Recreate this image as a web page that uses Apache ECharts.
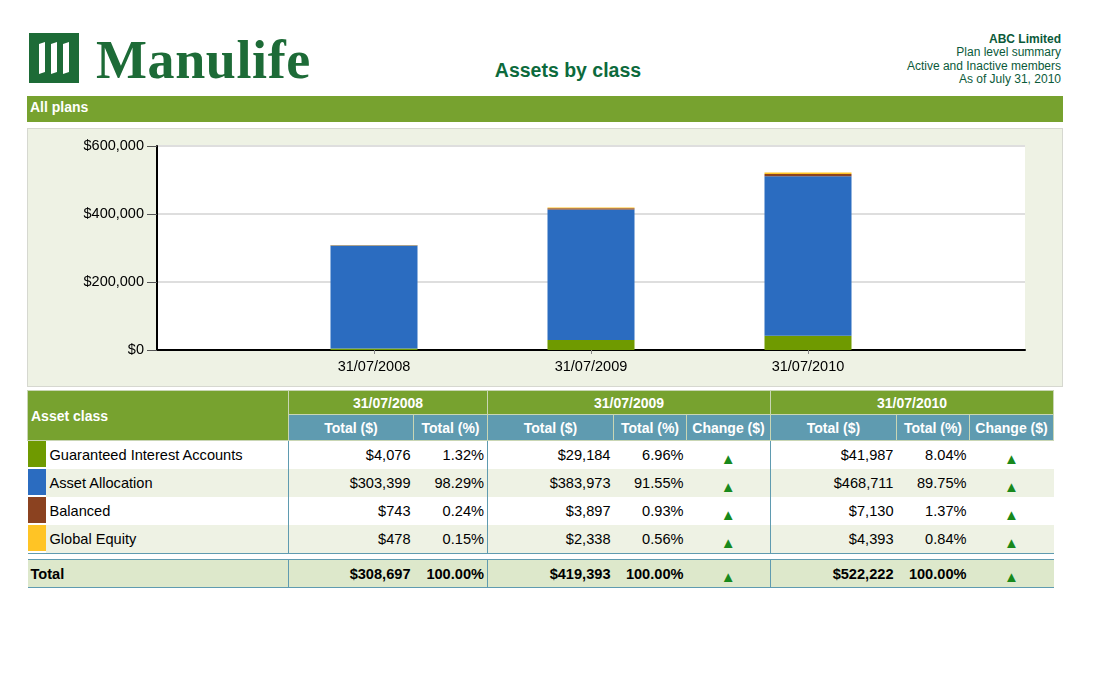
<!DOCTYPE html>
<html>
<head>
<meta charset="utf-8">
<script src="https://cdn.jsdelivr.net/npm/echarts@6/dist/echarts.min.js"></script>
<style>
body { margin: 0; background: #fff; font-family: Arial, "Liberation Sans", sans-serif; }
#page { position: relative; width: 1094px; height: 682px; overflow: hidden; }
.abs { position: absolute; }
#logoBox { left: 29px; top: 33px; width: 50px; height: 50px; background: #1d6b37; overflow: hidden; }
#logoBox span { position: absolute; top: 10px; width: 6px; height: 30px; background: #fff; transform: skewY(-18deg); }
#logoText { left: 96px; top: 30px; font-family: "Liberation Serif", serif; font-weight: bold; font-size: 54px; letter-spacing: 0.6px; line-height: 60px; color: #1d6b37; }
#title { left: 468px; width: 200px; top: 59px; text-align: center; font-size: 19.5px; font-weight: bold; color: #0c6a3c; }
#hdr { right: 33px; top: 33px; text-align: right; font-size: 12px; line-height: 13.3px; color: #0b5a3a; }
#band { left: 27px; top: 96px; width: 1036px; height: 26px; background: #77a22f; color: #fff; font-weight: bold; font-size: 14px; line-height: 22px; }
#band span { padding-left: 3px; }
#chart { left: 27px; top: 128px; width: 1034px; height: 257px; background: #eef2e4; border: 1px solid #d6d8d0; }
#tbl { left: 27px; top: 390px; border-collapse: collapse; table-layout: fixed; font-size: 14.6px; }
#tbl td { padding: 0 3px; white-space: nowrap; overflow: hidden; }
#tbl .h1 td { height: 23px; background: #77a22f; color: #fff; font-weight: bold; font-size: 14px; text-align: center; border: 1px solid #c9d6b4; }
#tbl .h2 td { height: 25px; background: #5f9bb0; color: #fff; font-weight: bold; font-size: 14px; text-align: center; border: 1px solid #c9d6b4; }
#tbl .h1 td.ac { text-align: left; vertical-align: middle; padding-left: 3px; }
#tbl tr.d td { height: 28px; color: #000; text-align: right; }
#tbl tr.d td.nm { text-align: left; padding-left: 4px; }
#tbl tr.d td.sw { padding: 0; box-shadow: inset 0 -2px 0 #fff; }
#tbl tr.alt td { background: #eef2e4; }
#tbl td.gs { border-left: 1px solid #5f9bb0; }
#tbl tr.d td.tri { text-align: center; color: #18891c; font-size: 15px; }
#tbl td.tri span { position: relative; top: 3px; }
#tbl tr.sep td { height: 5px; border-top: 1px solid #5f9bb0; border-bottom: 1px solid #5f9bb0; background: #fff; padding: 0; }
#tbl tr.tot td { height: 27px; background: #dde8cb; font-weight: bold; border-bottom: 1px solid #5f9bb0; }
#tbl tr.tot td.nm { padding-left: 3px; }
</style>
</head>
<body>
<div id="page">
  <div id="logoBox" class="abs"><span style="left:10px"></span><span style="left:22px"></span><span style="left:34px"></span></div>
  <div id="logoText" class="abs">Manulife</div>
  <div id="title" class="abs">Assets by class</div>
  <div id="hdr" class="abs"><b>ABC Limited</b><br>Plan level summary<br>Active and Inactive members<br>As of July 31, 2010</div>
  <div id="band" class="abs"><span>All plans</span></div>
  <div id="chart" class="abs"></div>
  <table id="tbl" class="abs"></table>
</div>
<script>
// dates and asset classes
var dates = ['31/07/2008', '31/07/2009', '31/07/2010'];
var assetClasses = ['Guaranteed Interest Accounts', 'Asset Allocation', 'Balanced', 'Global Equity'];
var classColors = ['#6f9a00', '#2b6cc0', '#8b4220', '#ffc425'];

// values ($) per date
var giaVals = [4076, 29184, 41987];
var allocVals = [303399, 383973, 468711];
var balancedVals = [743, 3897, 7130];
var equityVals = [478, 2338, 4393];

// percentages per date as printed
var giaPct = ['1.32%', '6.96%', '8.04%'];
var allocPct = ['98.29%', '91.55%', '89.75%'];
var balancedPct = ['0.24%', '0.93%', '1.37%'];
var equityPct = ['0.15%', '0.56%', '0.84%'];

var totalVals = [308697, 419393, 522222];
var totalPct = ['100.00%', '100.00%', '100.00%'];

// y axis ticks
var yMin = 0, yMax = 600000, yStep = 200000;

function money(v) {
    return '$' + v.toLocaleString('en-US');
}

// chart -----------------------------------------------------------
var myChart = echarts.init(document.getElementById('chart'));
var cats = [''].concat(dates).concat(['']);
var seriesVals = [giaVals, allocVals, balancedVals, equityVals];
var series = [];
for (var i = 0; i < assetClasses.length; i++) {
    series.push({
        name: assetClasses[i],
        type: 'bar',
        stack: 'assets',
        barWidth: 87,
        data: [null].concat(seriesVals[i]).concat([null]),
        itemStyle: { color: classColors[i] }
    });
}
var option = {
    animation: false,
    grid: {
        left: 129, top: 17, right: 37, bottom: 36,
        show: true, backgroundColor: '#fff', borderWidth: 0
    },
    xAxis: {
        type: 'category',
        data: cats,
        boundaryGap: false,
        axisLine: { lineStyle: { color: '#000', width: 2 } },
        axisTick: {
            show: true, length: 4,
            interval: function (idx, val) { return val !== ''; },
            lineStyle: { color: '#888' }
        },
        axisLabel: {
            color: '#000', fontSize: 14.5, fontFamily: 'Arial', margin: 9,
            interval: 0
        },
        splitLine: { show: false }
    },
    yAxis: {
        type: 'value',
        min: yMin, max: yMax, interval: yStep,
        axisLine: { show: true, lineStyle: { color: '#000', width: 2 } },
        axisTick: { show: true, length: 10, lineStyle: { color: '#555' } },
        axisLabel: {
            color: '#000', fontSize: 14.5, fontFamily: 'Arial', margin: 13,
            formatter: function (v) { return money(v); }
        },
        splitLine: { lineStyle: { color: '#dedede', width: 2 } }
    },
    series: series
};
myChart.setOption(option);

// table -----------------------------------------------------------
var pctVals = [giaPct, allocPct, balancedPct, equityPct];
var colW = [18, 243, 125, 74, 126, 73, 84, 126, 73, 84];
var tri = '<td class="tri"><span>&#9650;</span></td>';
var html = '<colgroup>';
for (var c = 0; c < colW.length; c++) html += '<col style="width:' + colW[c] + 'px">';
html += '</colgroup>';

html += '<tr class="h1"><td class="ac" colspan="2" rowspan="2">Asset class</td>';
html += '<td colspan="2">' + dates[0] + '</td>';
html += '<td colspan="3">' + dates[1] + '</td>';
html += '<td colspan="3">' + dates[2] + '</td></tr>';
html += '<tr class="h2"><td>Total ($)</td><td>Total (%)</td>';
html += '<td>Total ($)</td><td>Total (%)</td><td>Change ($)</td>';
html += '<td>Total ($)</td><td>Total (%)</td><td>Change ($)</td></tr>';

for (var r = 0; r < assetClasses.length; r++) {
    html += '<tr class="d' + (r % 2 ? ' alt' : '') + '">';
    html += '<td class="sw" style="background:' + classColors[r] + '"></td>';
    html += '<td class="nm">' + assetClasses[r] + '</td>';
    for (var d = 0; d < dates.length; d++) {
        html += '<td class="gs">' + money(seriesVals[r][d]) + '</td>';
        html += '<td>' + pctVals[r][d] + '</td>';
        if (d > 0) html += tri;
    }
    html += '</tr>';
}
html += '<tr class="sep"><td colspan="10"></td></tr>';
html += '<tr class="tot d"><td class="nm" colspan="2" style="text-align:left">Total</td>';
for (var d = 0; d < dates.length; d++) {
    html += '<td class="gs">' + money(totalVals[d]) + '</td>';
    html += '<td>' + totalPct[d] + '</td>';
    if (d > 0) html += tri;
}
html += '</tr>';
document.getElementById('tbl').innerHTML = html;
</script>
</body>
</html>
